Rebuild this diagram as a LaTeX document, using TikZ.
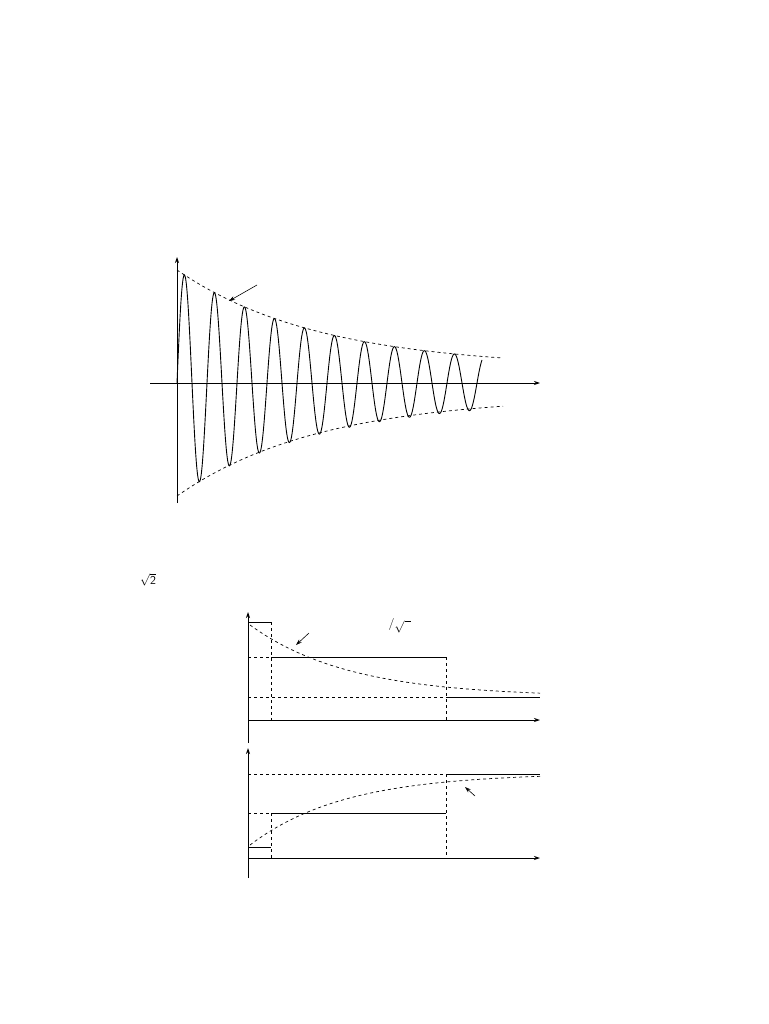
\documentclass[tikz,border=0pt]{standalone}
\usepackage{fontspec}
\setmainfont{DejaVu Sans}
\usetikzlibrary{arrows.meta}
\begin{document}
\begin{tikzpicture}[x=1pt,y=-1pt,
  ax/.style={-{Stealth[length=6pt,width=4pt]},line width=0.8pt},
  dsh/.style={dashed,line width=0.7pt},
  sol/.style={line width=0.9pt},
  lbl/.style={inner sep=0pt,font=\large}]
\useasboundingbox (0,0) rectangle (768,1024);
% top plot
\coordinate (o) at (177,383);
\coordinate (yb) at (177,503); \coordinate (yt) at (177,257);
\coordinate (xl) at (150,383); \coordinate (xr) at (540,383);
\draw[ax] (yb) -- (yt);
\draw[ax] (xl) -- (xr);
\draw[dsh,domain=177:503,samples=80] plot (\x,{383-(15+98*exp(-0.0070*(\x-177)))});
\draw[dsh,domain=177:503,samples=80] plot (\x,{383+(13+100*exp(-0.0070*(\x-177)))});
\draw[line width=0.9pt,domain=177:482,samples=500,smooth] plot (\x,{383-(15+98*exp(-0.0070*(\x-177)))*sin(12*(\x-177))});
\coordinate (a1s) at (257,285); \coordinate (a1e) at (229,301);
\draw[ax,line width=0.6pt] (a1s) -- (a1e);
\node[lbl] (s2) at (148,580) {$\sqrt{\mathsf{2}}$};
% plot 1
\draw[ax] (248,743) -- (248,612);
\draw[ax] (248,720) -- (540,720);
\draw[sol] (248,622) -- (271,622);
\draw[dsh] (271,622) -- (271,720);
\draw[dsh] (248,657) -- (271,657);
\draw[sol] (271,657) -- (446,657);
\draw[dsh] (446,657) -- (446,720);
\draw[dsh] (248,697) -- (446,697);
\draw[sol] (446,697) -- (540,697);
\draw[dsh,domain=250:540,samples=80] plot (\x,{697-72*exp(-0.0101*(\x-250))});
\draw[ax,line width=0.6pt] (309,633) -- (296,645);
\node[lbl] (r1) at (400,626) {$/\sqrt{\hphantom{x}}$};
% plot 2
\draw[ax] (248,878) -- (248,748);
\draw[ax] (248,858) -- (540,858);
\draw[sol] (248,847) -- (271,847);
\draw[dsh] (271,813) -- (271,858);
\draw[dsh] (248,813) -- (271,813);
\draw[sol] (271,813) -- (446,813);
\draw[dsh] (446,774) -- (446,858);
\draw[dsh] (248,774) -- (446,774);
\draw[sol] (446,774) -- (540,774);
\draw[dsh,domain=250:540,samples=80] plot (\x,{773+72*exp(-0.0106*(\x-250))});
\draw[ax,line width=0.6pt] (475,796) -- (465,787);
\end{tikzpicture}
\end{document}
